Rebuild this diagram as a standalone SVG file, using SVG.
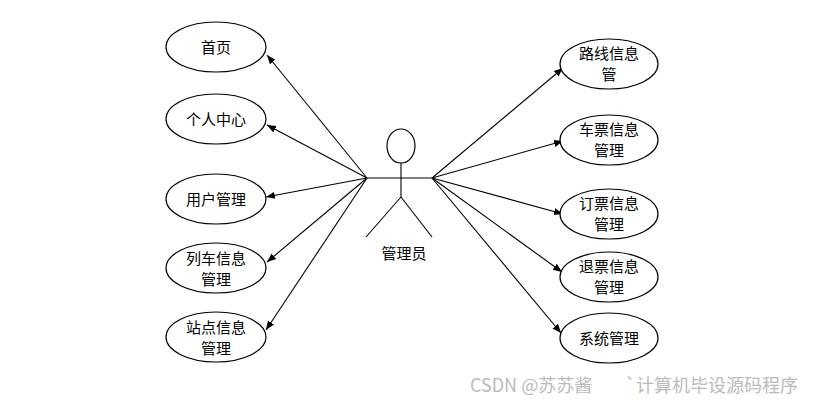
<svg xmlns="http://www.w3.org/2000/svg" width="829" height="405" viewBox="0 0 829 405">
<style>
ellipse{fill:#fff;stroke:#000;stroke-width:1.2}
text{font-family:"Noto Sans CJK SC",sans-serif;font-size:15px;fill:#000;text-anchor:middle}
.c line{stroke:#000;stroke-width:1.1;marker-end:url(#a)}
.w{fill:#bbb;font-size:18px;text-anchor:start}
</style>
<defs><marker id="a" viewBox="0 0 10 10" refX="10" refY="5" markerWidth="9" markerHeight="9" orient="auto" markerUnits="userSpaceOnUse"><path d="M0,1L10,5L0,9z" fill="#000"/></marker></defs>
<rect width="829" height="405" fill="#fff"/>
<g id="actor" fill="none" stroke="#000" stroke-width="1.1">
<ellipse cx="401" cy="146" rx="14" ry="17"/>
<line x1="401" y1="163" x2="401" y2="197"/>
<line x1="367" y1="178" x2="432" y2="178"/>
<line x1="401" y1="197" x2="366" y2="237"/>
<line x1="401" y1="197" x2="432" y2="237"/>
<text x="404" y="259" stroke="none">管理员</text>
</g>
<g class="c" id="connectors">
<line x1="367" y1="178" x2="267" y2="55"/>
<line x1="367" y1="178" x2="267" y2="125"/>
<line x1="367" y1="178" x2="266" y2="197"/>
<line x1="367" y1="178" x2="267" y2="262"/>
<line x1="367" y1="178" x2="266" y2="330"/>
<line x1="432" y1="178" x2="563" y2="68"/>
<line x1="432" y1="178" x2="563" y2="141"/>
<line x1="432" y1="178" x2="563" y2="214"/>
<line x1="432" y1="178" x2="562" y2="272"/>
<line x1="432" y1="178" x2="561" y2="333"/>
</g>
<g id="n1"><ellipse cx="216" cy="47" rx="50" ry="25"/><text x="216" y="53">首页</text></g>
<g id="n2"><ellipse cx="216" cy="119" rx="50" ry="25"/><text x="216" y="125">个人中心</text></g>
<g id="n3"><ellipse cx="216" cy="199" rx="50" ry="25"/><text x="216" y="205">用户管理</text></g>
<g id="n4"><ellipse cx="216" cy="268" rx="50" ry="25"/><text x="216" y="264">列车信息</text><text x="216" y="285">管理</text></g>
<g id="n5"><ellipse cx="216" cy="337" rx="50" ry="25"/><text x="216" y="333">站点信息</text><text x="216" y="354">管理</text></g>
<g id="m1"><ellipse cx="609" cy="64" rx="49" ry="25"/><text x="609" y="59">路线信息</text><text x="609" y="80">管</text></g>
<g id="m2"><ellipse cx="609" cy="140" rx="49" ry="25"/><text x="609" y="135">车票信息</text><text x="609" y="156">管理</text></g>
<g id="m3"><ellipse cx="609" cy="214" rx="49" ry="25"/><text x="609" y="209">订票信息</text><text x="609" y="230">管理</text></g>
<g id="m4"><ellipse cx="609" cy="277" rx="49" ry="25"/><text x="609" y="272">退票信息</text><text x="609" y="293">管理</text></g>
<g id="m5"><ellipse cx="609" cy="338" rx="49" ry="25"/><text x="609" y="344">系统管理</text></g>
<text class="w" x="470" y="392">CSDN @苏苏酱</text>
<text class="w" x="625" y="392">`计算机毕设源码程序</text>
</svg>
